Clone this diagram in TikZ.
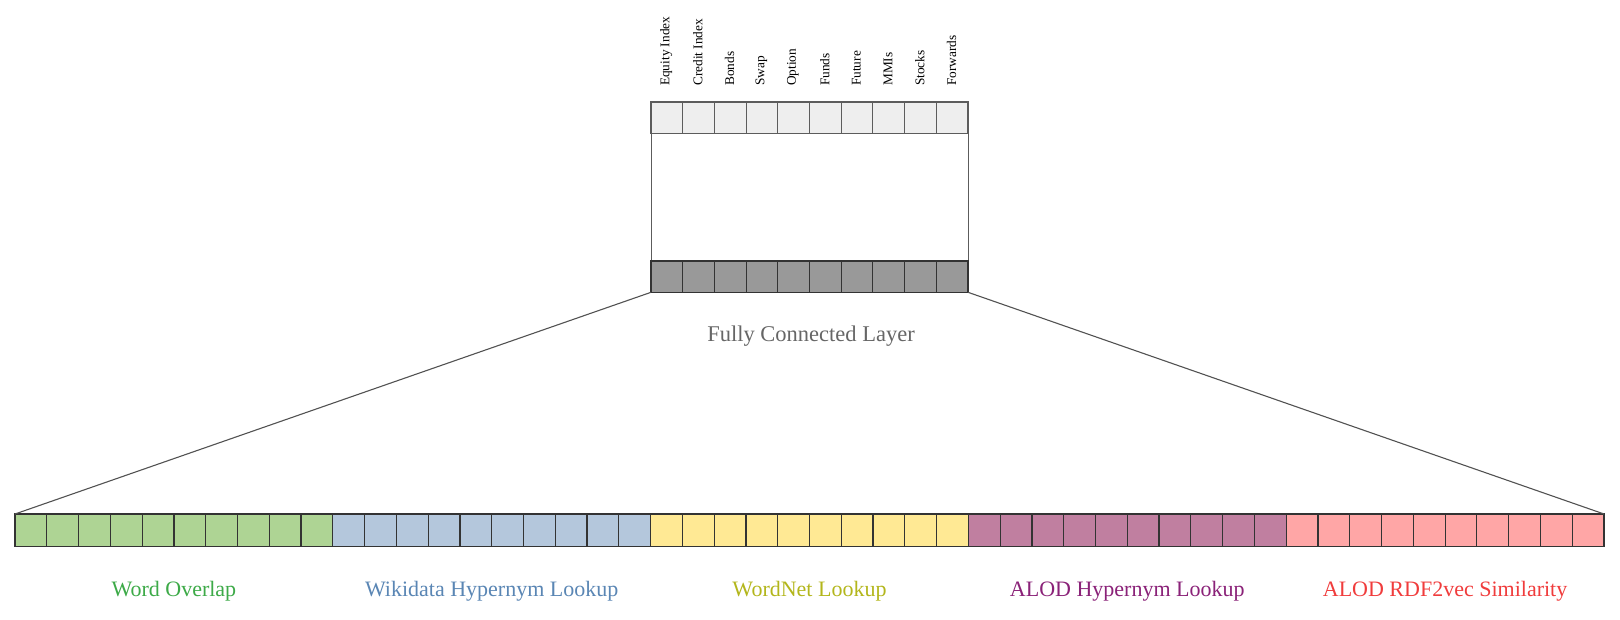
\documentclass[tikz,border=0pt]{standalone}
\usepackage{fontspec}
\setmainfont{Liberation Serif}
\definecolor{topfill}{HTML}{EEEEEE}
\definecolor{grayfill}{HTML}{999999}
\definecolor{grnF}{HTML}{AED494}
\definecolor{bluF}{HTML}{B4C7DC}
\definecolor{yelF}{HTML}{FFE994}
\definecolor{purF}{HTML}{C07FA0}
\definecolor{redF}{HTML}{FFA6A6}
\definecolor{grnT}{HTML}{3DAA48}
\definecolor{bluT}{HTML}{5A86B4}
\definecolor{yelT}{HTML}{B3B61C}
\definecolor{purT}{HTML}{8A2278}
\definecolor{redT}{HTML}{F03C3C}
\definecolor{fcT}{HTML}{666666}
\definecolor{edge}{HTML}{333333}
\begin{document}
\begin{tikzpicture}[x=1pt,y=-1pt,
  topcell/.style={draw=edge!80, line width=1.1pt, fill=topfill, minimum width=31.7pt, minimum height=31.3pt, inner sep=0pt, outer sep=0pt, anchor=north west},
  graycell/.style={topcell, fill=grayfill, draw=edge},
  botcell/.style={draw=edge, line width=1.2pt, minimum width=31.78pt, minimum height=32.5pt, inner sep=0pt, outer sep=0pt, anchor=north west},
  toplabel/.style={rotate=90, anchor=west, inner sep=0pt, font=\fontsize{13.3}{16}\selectfont},
  grouplabel/.style={anchor=base, inner sep=0pt, font=\fontsize{22}{26}\selectfont},
  frame/.style={draw=edge!80, line width=1pt},
  conn/.style={draw=edge!85, line width=1.1pt}]
\useasboundingbox (0,0) rectangle (1620,620);
\foreach \i/\lab in {0/Equity Index,1/Credit Index,2/Bonds,3/Swap,4/Option,5/Funds,6/Future,7/MMIs,8/Stocks,9/Forwards} {
  \node[toplabel] (l\i) at ({651+31.7*\i+15.2},86) {\lab};
}
\draw[frame] (651,102) rectangle (968,292);
\foreach \i in {0,...,9} {
  \node[topcell] (t\i) at ({651+31.7*\i},102) {};
  \node[graycell] (g\i) at ({651+31.7*\i},261) {};
}
\node[grouplabel, text=fcT, font=\fontsize{22.5}{27}\selectfont] (fc) at (811,341.7) {Fully Connected Layer};
\foreach \g/\f in {0/grnF,1/bluF,2/yelF,3/purF,4/redF} {
  \foreach \j in {0,...,9} {
    \pgfmathtruncatemacro\k{\g*10+\j}
    \node[botcell, fill=\f] (b\k) at ({15+31.78*\k},514) {};
  }
}
\draw[conn] (g0.south west) -- (b0.north west);
\draw[conn] (g9.south east) -- (b49.north east);
\node[grouplabel, text=grnT] (n0) at (173.9,596.7) {Word Overlap};
\node[grouplabel, text=bluT] (n1) at (491.7,596.7) {Wikidata Hypernym Lookup};
\node[grouplabel, text=yelT] (n2) at (809.5,596.7) {WordNet Lookup};
\node[grouplabel, text=purT] (n3) at (1127.3,596.7) {ALOD Hypernym Lookup};
\node[grouplabel, text=redT] (n4) at (1445.1,596.7) {ALOD RDF2vec Similarity};
\end{tikzpicture}
\end{document}
